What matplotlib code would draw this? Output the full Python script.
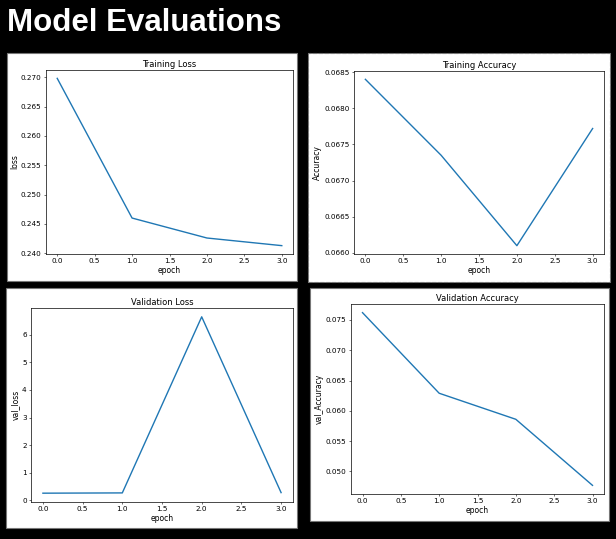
import numpy as np
import matplotlib.pyplot as plt
from matplotlib.patches import Rectangle

# =========================
# DATA
# =========================
epochs = [0, 1, 2, 3]
loss = [0.2698, 0.2460, 0.2426, 0.2413]
accuracy = [0.06840, 0.06735, 0.06610, 0.06772]
val_loss = [0.26, 0.27, 6.65, 0.28]
val_accuracy = [0.0762, 0.0629, 0.0586, 0.0477]

W, H = 616, 539
fig = plt.figure(figsize=(W / 100, H / 100), dpi=100, facecolor='black')


def px_rect(x0, y0, x1, y1):
    # pixel box (top-left origin) -> figure fraction
    return [x0 / W, 1 - y1 / H, (x1 - x0) / W, (y1 - y0) / H]


fig.text(7 / W, 1 - 23 / H, "Model Evaluations", color='white', fontsize=22.5,
         fontweight='bold', family='Liberation Sans', va='center', ha='left')

# white panels behind each plot
panels = [
    ((7, 53, 297, 281), 'solid'),
    ((308, 53, 610, 282), 'dashed'),
    ((6, 288, 297, 528), 'solid'),
    ((310, 288, 609, 521), 'solid'),
]
for (x0, y0, x1, y1), ls in panels:
    r = px_rect(x0, y0, x1, y1)
    fig.patches.append(Rectangle((r[0], r[1]), r[2], r[3], transform=fig.transFigure,
                                 facecolor='white', edgecolor='#777777',
                                 linewidth=0.8, linestyle=ls, zorder=-5))

plots = [
    ((46, 70, 293, 254), loss, "Training Loss", "loss"),
    ((354, 71, 604, 254), accuracy, "Training Accuracy", "Accuracy"),
    ((31, 308, 293, 502), val_loss, "Validation Loss", "val_loss"),
    ((351, 304, 604, 494), val_accuracy, "Validation Accuracy", "val_Accuracy"),
]

for box, values, title, ylabel in plots:
    ax = fig.add_axes(px_rect(*box))
    ax.set_zorder(1)
    ax.plot(epochs, values, color='#1f77b4', linewidth=1.0)
    ax.set_title(title, fontsize=6, pad=2.5)
    ax.set_xlabel("epoch", fontsize=5.5, labelpad=1)
    ax.set_ylabel(ylabel, fontsize=5.5, labelpad=1.5)
    ax.set_xticks(np.arange(0, 3.01, 0.5))
    ax.ticklabel_format(axis='y', useOffset=False, style='plain')
    ax.tick_params(labelsize=5.2, length=1.6, width=0.4, pad=1.5)
    for s in ax.spines.values():
        s.set_linewidth(0.5)

fig.savefig("out.png", dpi=100, facecolor='black')
